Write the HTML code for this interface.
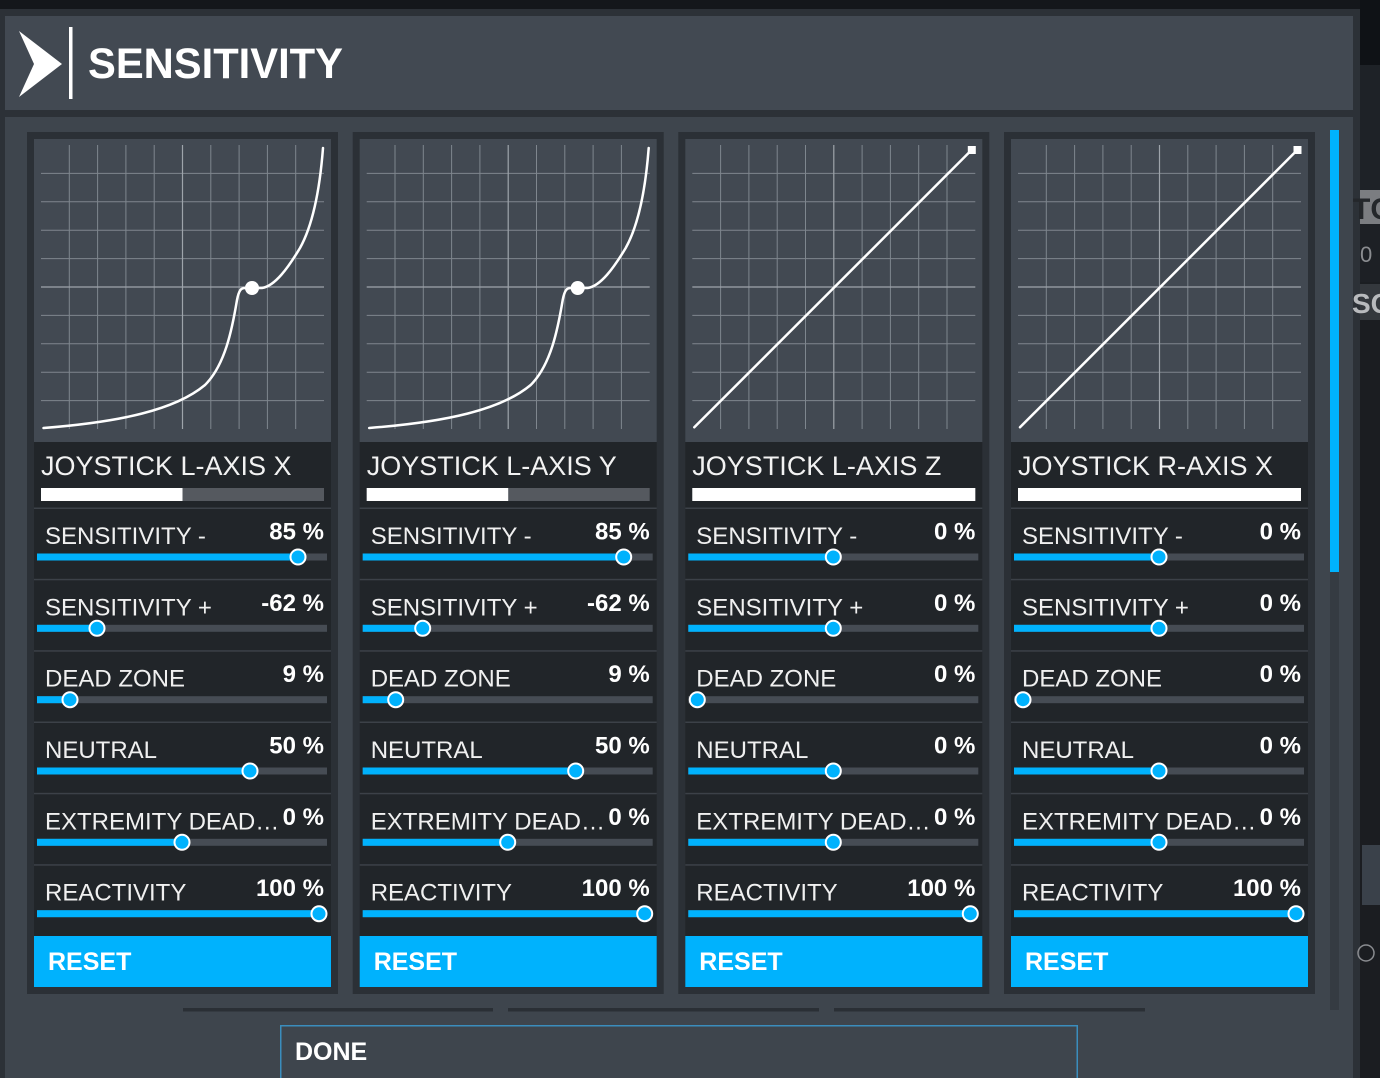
<!DOCTYPE html>
<html><head><meta charset="utf-8"><style>
html,body{margin:0;padding:0;background:#1b1e22;}
svg{display:block;font-family:"Liberation Sans",Arial,sans-serif;}
</style></head><body>
<svg width="1380" height="1078" viewBox="0 0 1380 1078" xmlns="http://www.w3.org/2000/svg">
<defs>
  <g id="cardbase">
    <rect x="0" y="132" width="311" height="862" fill="#2b3036"/>
    <rect x="7" y="139" width="297" height="303" fill="#424952"/>
    <rect x="7" y="442" width="297" height="545" fill="#212529"/>
    <rect x="14" y="488" width="283" height="13" fill="#55595f"/>
    <g fill="#3c4148">
      <rect x="7" y="507.5" width="297" height="1.5"/>
      <rect x="7" y="578.8" width="297" height="1.5"/>
      <rect x="7" y="650.2" width="297" height="1.5"/>
      <rect x="7" y="721.5" width="297" height="1.5"/>
      <rect x="7" y="792.8" width="297" height="1.5"/>
      <rect x="7" y="864.2" width="297" height="1.5"/>
    </g>
    <g fill="#464c54">
      <rect x="10" y="553.5" width="290" height="7"/>
      <rect x="10" y="624.8" width="290" height="7"/>
      <rect x="10" y="696.2" width="290" height="7"/>
      <rect x="10" y="767.5" width="290" height="7"/>
      <rect x="10" y="838.8" width="290" height="7"/>
      <rect x="10" y="910.2" width="290" height="7"/>
    </g>
    <rect x="7" y="936" width="297" height="51" fill="#00b2fd"/>
    <g stroke="#7f868e" stroke-width="1">
      <line x1="42.3" y1="145" x2="42.3" y2="429"/>
      <line x1="70.6" y1="145" x2="70.6" y2="429"/>
      <line x1="98.9" y1="145" x2="98.9" y2="429"/>
      <line x1="127.2" y1="145" x2="127.2" y2="429"/>
      <line x1="183.8" y1="145" x2="183.8" y2="429"/>
      <line x1="212.1" y1="145" x2="212.1" y2="429"/>
      <line x1="240.4" y1="145" x2="240.4" y2="429"/>
      <line x1="268.7" y1="145" x2="268.7" y2="429"/>
      <line x1="14" y1="173.4" x2="297" y2="173.4"/>
      <line x1="14" y1="201.8" x2="297" y2="201.8"/>
      <line x1="14" y1="230.2" x2="297" y2="230.2"/>
      <line x1="14" y1="258.6" x2="297" y2="258.6"/>
      <line x1="14" y1="315.4" x2="297" y2="315.4"/>
      <line x1="14" y1="343.8" x2="297" y2="343.8"/>
      <line x1="14" y1="372.2" x2="297" y2="372.2"/>
      <line x1="14" y1="400.6" x2="297" y2="400.6"/>
    </g>
    <g stroke="#9ea4ab" stroke-width="1.2">
      <line x1="155.5" y1="145" x2="155.5" y2="429"/>
      <line x1="14" y1="287" x2="297" y2="287"/>
    </g>
    <g font-size="24" fill="#f0f0f0">
      <text x="18" y="544">SENSITIVITY -</text>
      <text x="18" y="615.3">SENSITIVITY +</text>
      <text x="18" y="686.7">DEAD ZONE</text>
      <text x="18" y="758">NEUTRAL</text>
      <text x="18" y="829.3">EXTREMITY DEAD…</text>
      <text x="18" y="900.7">REACTIVITY</text>
    </g>
    <text x="21" y="970" font-size="25" font-weight="bold" fill="#ffffff">RESET</text>
  </g>
  <g id="curve">
    <path d="M16.5,428 C93,422 148,410 178,385 C198,365 205,330 210,300 C212,290 214,288 218,288 L235,288 C248,286 261,268 273,248 C283,230 292,200 296,148" fill="none" stroke="#ffffff" stroke-width="2.5" stroke-linecap="round"/>
    <circle cx="225" cy="288" r="7" fill="#ffffff"/>
  </g>
  <g id="linear">
    <line x1="16" y1="427.3" x2="293" y2="150.3" stroke="#ffffff" stroke-width="2.5" stroke-linecap="round"/>
    <rect x="289.5" y="146" width="8" height="8" fill="#ffffff"/>
  </g>
  <g id="thumbsA">
    <g fill="#00b2fd">
      <rect x="10" y="553.5" width="261" height="7"/>
      <rect x="10" y="624.8" width="60" height="7"/>
      <rect x="10" y="696.2" width="33" height="7"/>
      <rect x="10" y="767.5" width="213" height="7"/>
      <rect x="10" y="838.8" width="145" height="7"/>
      <rect x="10" y="910.2" width="282" height="7"/>
    </g>
    <g fill="#00b2fd" stroke="#ffffff" stroke-width="2">
      <circle cx="271" cy="557" r="7.5"/>
      <circle cx="70" cy="628.3" r="7.5"/>
      <circle cx="43" cy="699.7" r="7.5"/>
      <circle cx="223" cy="771" r="7.5"/>
      <circle cx="155" cy="842.3" r="7.5"/>
      <circle cx="292" cy="913.7" r="7.5"/>
    </g>
    <g font-size="24" font-weight="bold" fill="#ffffff" text-anchor="end">
      <text x="297" y="539.5">85 %</text>
      <text x="297" y="610.8">-62 %</text>
      <text x="297" y="682.2">9 %</text>
      <text x="297" y="753.5">50 %</text>
      <text x="297" y="824.8">0 %</text>
      <text x="297" y="896.2">100 %</text>
    </g>
    <rect x="14" y="488" width="141.5" height="13" fill="#ffffff"/>
  </g>
  <g id="thumbsB">
    <g fill="#00b2fd">
      <rect x="10" y="553.5" width="145" height="7"/>
      <rect x="10" y="624.8" width="145" height="7"/>
      <rect x="10" y="767.5" width="145" height="7"/>
      <rect x="10" y="838.8" width="145" height="7"/>
      <rect x="10" y="910.2" width="282" height="7"/>
    </g>
    <g fill="#00b2fd" stroke="#ffffff" stroke-width="2">
      <circle cx="155" cy="557" r="7.5"/>
      <circle cx="155" cy="628.3" r="7.5"/>
      <circle cx="19" cy="699.7" r="7.5"/>
      <circle cx="155" cy="771" r="7.5"/>
      <circle cx="155" cy="842.3" r="7.5"/>
      <circle cx="292" cy="913.7" r="7.5"/>
    </g>
    <g font-size="24" font-weight="bold" fill="#ffffff" text-anchor="end">
      <text x="297" y="539.5">0 %</text>
      <text x="297" y="610.8">0 %</text>
      <text x="297" y="682.2">0 %</text>
      <text x="297" y="753.5">0 %</text>
      <text x="297" y="824.8">0 %</text>
      <text x="297" y="896.2">100 %</text>
    </g>
    <rect x="14" y="488" width="283" height="13" fill="#ffffff"/>
  </g>
</defs>

<!-- background / frame -->
<rect x="0" y="0" width="1380" height="1078" fill="#1b1e22"/>
<rect x="0" y="0" width="1380" height="9" fill="#14171b"/>
<rect x="0" y="9" width="1360" height="1069" fill="#2c3137"/>
<!-- right outside -->
<rect x="1360" y="0" width="20" height="65" fill="#0f1216"/>
<rect x="1360" y="65" width="20" height="125" fill="#1e2227"/>
<rect x="1360" y="190" width="20" height="34" fill="#7b7d81"/>
<text x="1352" y="219" font-size="30" font-weight="bold" fill="#24272b">TC</text>
<rect x="1360" y="224" width="20" height="58" fill="#1d2025"/>
<text x="1360" y="262" font-size="22" fill="#8a8c90">0</text>
<rect x="1360" y="284" width="20" height="36" fill="#34383d"/>
<text x="1352" y="313" font-size="28" font-weight="bold" fill="#b8babd">SC</text>
<rect x="1360" y="320" width="20" height="758" fill="#1b1d21"/>
<rect x="1362" y="845" width="18" height="60" fill="#3a414a"/>
<circle cx="1366" cy="953" r="8" fill="none" stroke="#8a8c90" stroke-width="1.5"/>

<!-- header -->
<rect x="5" y="16" width="1348" height="94" fill="#424952"/>
<polygon points="19,31 62,64 19,97 34,64" fill="#ffffff"/>
<rect x="69" y="27" width="3.5" height="72" fill="#ffffff"/>
<text x="88" y="78" font-size="43" font-weight="bold" fill="#ffffff" textLength="255" lengthAdjust="spacingAndGlyphs">SENSITIVITY</text>

<!-- main panel -->
<rect x="5" y="117" width="1348" height="961" fill="#3e454d"/>

<!-- scrollbar -->
<rect x="1330" y="130" width="9" height="880" fill="#353b42"/>
<rect x="1330" y="130" width="9" height="442" fill="#00b2fd"/>

<!-- cards -->
<g transform="translate(27,0)">
  <use href="#cardbase"/>
  <use href="#curve"/>
  <use href="#thumbsA"/>
  <text x="14" y="475" font-size="27" fill="#f2f2f2">JOYSTICK L-AXIS X</text>
</g>
<g transform="translate(352.7,0)">
  <use href="#cardbase"/>
  <use href="#curve"/>
  <use href="#thumbsA"/>
  <text x="14" y="475" font-size="27" fill="#f2f2f2">JOYSTICK L-AXIS Y</text>
</g>
<g transform="translate(678.3,0)">
  <use href="#cardbase"/>
  <use href="#linear"/>
  <use href="#thumbsB"/>
  <text x="14" y="475" font-size="27" fill="#f2f2f2">JOYSTICK L-AXIS Z</text>
</g>
<g transform="translate(1004,0)">
  <use href="#cardbase"/>
  <use href="#linear"/>
  <use href="#thumbsB"/>
  <text x="14" y="475" font-size="27" fill="#f2f2f2">JOYSTICK R-AXIS X</text>
</g>

<!-- pagination lines -->
<g fill="#2a2f35">
  <rect x="183" y="1008" width="310" height="3.5"/>
  <rect x="508" y="1008" width="311" height="3.5"/>
  <rect x="834" y="1008" width="311" height="3.5"/>
</g>

<!-- DONE -->
<rect x="280.75" y="1025.75" width="796.5" height="60" fill="#3e454d" stroke="#3a8dbd" stroke-width="1.5"/>
<text x="295" y="1060" font-size="25" font-weight="bold" fill="#ffffff">DONE</text>
</svg>
</body></html>
